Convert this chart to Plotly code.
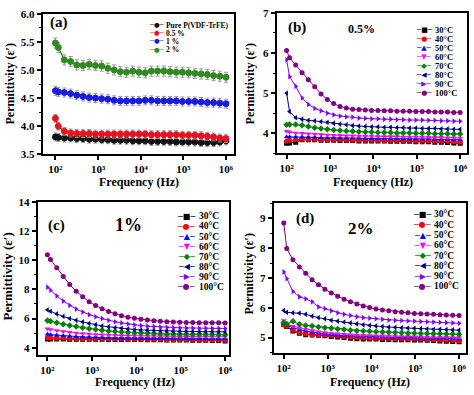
import plotly.graph_objects as go

FREQ = [100, 117, 162, 227, 317, 444, 621, 869, 1216, 1701, 2380, 3330, 4659, 6518, 9119,
        12758, 17849, 24971, 34935, 48875, 68378, 95663, 133835, 187238, 261951, 366476,
        512710, 717294, 1003513]

# ---- panel (a): composition series at room temperature
A_NAMES = ["Pure P(VDF-TrFE)", "0.5 %", "1 %", "2 %"]
A_PURE = [3.81, 3.80, 3.79, 3.79, 3.78, 3.78, 3.77, 3.77, 3.76, 3.76,
          3.75, 3.75, 3.75, 3.74, 3.74, 3.74, 3.73, 3.73, 3.73, 3.73,
          3.72, 3.72, 3.72, 3.72, 3.71, 3.71, 3.71, 3.72, 3.74]
A_05 = [4.14, 4.00, 3.91, 3.88, 3.87, 3.87, 3.87, 3.86, 3.86, 3.86,
        3.86, 3.86, 3.86, 3.86, 3.86, 3.86, 3.85, 3.85, 3.85, 3.85,
        3.85, 3.84, 3.84, 3.84, 3.83, 3.82, 3.81, 3.79, 3.78]
A_1 = [4.63, 4.61, 4.60, 4.58, 4.55, 4.53, 4.51, 4.50, 4.49, 4.48,
       4.46, 4.45, 4.45, 4.45, 4.45, 4.46, 4.46, 4.45, 4.45, 4.45,
       4.45, 4.44, 4.44, 4.44, 4.43, 4.42, 4.42, 4.41, 4.40]
A_2 = [5.48, 5.40, 5.18, 5.15, 5.09, 5.08, 5.10, 5.08, 5.07, 5.03,
       5.00, 4.97, 4.96, 4.98, 4.96, 4.95, 4.98, 4.98, 4.98, 4.97,
       4.96, 4.96, 4.95, 4.94, 4.93, 4.92, 4.90, 4.89, 4.87]
A_ERR = [0.07, 0.07, 0.08, 0.09]

# ---- temperature series names
T_NAMES = ["30°C", "40°C", "50°C", "60°C", "70°C", "80°C", "90°C", "100°C"]

# ---- panel (b): 0.5 %
B30 = [3.75, 3.76, 3.78, 3.84, 3.84, 3.84, 3.83, 3.83, 3.83, 3.82,
       3.82, 3.82, 3.81, 3.81, 3.81, 3.81, 3.81, 3.80, 3.80, 3.80,
       3.80, 3.79, 3.79, 3.79, 3.78, 3.78, 3.77, 3.76, 3.75]
B40 = [3.80, 3.82, 3.84, 3.85, 3.85, 3.85, 3.84, 3.84, 3.84, 3.84,
       3.83, 3.83, 3.83, 3.83, 3.83, 3.83, 3.82, 3.82, 3.82, 3.82,
       3.82, 3.81, 3.81, 3.81, 3.81, 3.80, 3.80, 3.79, 3.78]
B50 = [3.91, 3.91, 3.91, 3.91, 3.90, 3.90, 3.89, 3.89, 3.89, 3.88,
       3.88, 3.88, 3.88, 3.87, 3.87, 3.87, 3.87, 3.87, 3.87, 3.86,
       3.86, 3.86, 3.86, 3.86, 3.85, 3.85, 3.85, 3.84, 3.84]
B60 = [4.05, 4.03, 4.01, 4.00, 3.99, 3.98, 3.97, 3.96, 3.95, 3.95,
       3.94, 3.94, 3.93, 3.93, 3.93, 3.92, 3.92, 3.92, 3.92, 3.91,
       3.91, 3.91, 3.91, 3.90, 3.90, 3.90, 3.89, 3.89, 3.88]
B70 = [4.21, 4.22, 4.22, 4.20, 4.17, 4.14, 4.12, 4.10, 4.08, 4.07,
       4.06, 4.05, 4.04, 4.03, 4.03, 4.02, 4.02, 4.02, 4.01, 4.01,
       4.01, 4.00, 4.00, 4.00, 3.99, 3.99, 3.99, 3.98, 3.98]
B80 = [5.00, 4.54, 4.39, 4.35, 4.32, 4.31, 4.29, 4.27, 4.25, 4.23,
       4.21, 4.19, 4.18, 4.17, 4.16, 4.16, 4.15, 4.15, 4.14, 4.14,
       4.13, 4.13, 4.12, 4.12, 4.12, 4.11, 4.11, 4.10, 4.10]
B90 = [5.83, 5.41, 5.17, 4.88, 4.72, 4.62, 4.56, 4.50, 4.46, 4.43,
       4.41, 4.40, 4.38, 4.37, 4.36, 4.36, 4.35, 4.35, 4.34, 4.34,
       4.33, 4.33, 4.33, 4.32, 4.32, 4.31, 4.31, 4.30, 4.30]
B100 = [6.06, 5.88, 5.70, 5.51, 5.33, 5.16, 4.98, 4.84, 4.74, 4.67,
        4.63, 4.60, 4.59, 4.58, 4.57, 4.57, 4.56, 4.56, 4.55, 4.55,
        4.55, 4.54, 4.54, 4.54, 4.53, 4.53, 4.53, 4.52, 4.52]

# ---- panel (c): 1 %
C30 = [4.60, 4.60, 4.60, 4.60, 4.59, 4.59, 4.59, 4.58, 4.58, 4.58,
       4.57, 4.57, 4.57, 4.56, 4.56, 4.56, 4.55, 4.55, 4.55, 4.54,
       4.54, 4.53, 4.53, 4.52, 4.52, 4.51, 4.50, 4.49, 4.47]
C40 = [4.68, 4.67, 4.66, 4.65, 4.64, 4.63, 4.62, 4.62, 4.61, 4.61,
       4.60, 4.60, 4.60, 4.59, 4.59, 4.59, 4.58, 4.58, 4.58, 4.57,
       4.57, 4.57, 4.56, 4.56, 4.55, 4.55, 4.54, 4.53, 4.52]
C50 = [4.92, 4.90, 4.86, 4.82, 4.79, 4.76, 4.74, 4.72, 4.70, 4.69,
       4.68, 4.67, 4.66, 4.66, 4.65, 4.65, 4.64, 4.64, 4.64, 4.63,
       4.63, 4.63, 4.62, 4.62, 4.62, 4.61, 4.61, 4.60, 4.60]
C60 = [5.30, 5.25, 5.18, 5.12, 5.06, 5.01, 4.97, 4.94, 4.91, 4.89,
       4.87, 4.85, 4.84, 4.83, 4.82, 4.81, 4.80, 4.80, 4.79, 4.79,
       4.78, 4.78, 4.78, 4.77, 4.77, 4.77, 4.76, 4.76, 4.75]
C70 = [5.87, 5.82, 5.72, 5.62, 5.53, 5.45, 5.38, 5.31, 5.25, 5.20,
       5.15, 5.11, 5.08, 5.05, 5.03, 5.01, 4.99, 4.98, 4.96, 4.95,
       4.94, 4.93, 4.93, 4.92, 4.92, 4.91, 4.91, 4.90, 4.90]
C80 = [6.60, 6.50, 6.32, 6.15, 6.00, 5.88, 5.77, 5.67, 5.58, 5.50,
       5.44, 5.38, 5.33, 5.29, 5.25, 5.22, 5.20, 5.18, 5.16, 5.15,
       5.14, 5.13, 5.12, 5.11, 5.11, 5.10, 5.10, 5.09, 5.09]
C90 = [8.15, 7.95, 7.55, 7.20, 6.90, 6.65, 6.45, 6.27, 6.12, 6.00,
       5.88, 5.78, 5.70, 5.63, 5.57, 5.52, 5.48, 5.45, 5.42, 5.40,
       5.38, 5.37, 5.36, 5.35, 5.34, 5.34, 5.33, 5.33, 5.32]
C100 = [10.37, 10.05, 9.49, 8.89, 8.33, 7.87, 7.49, 7.15, 6.89, 6.67,
        6.49, 6.33, 6.20, 6.09, 6.02, 5.95, 5.90, 5.86, 5.82, 5.79,
        5.77, 5.75, 5.74, 5.73, 5.72, 5.72, 5.71, 5.71, 5.70]

# ---- panel (d): 2 %
D30 = [5.45, 5.37, 5.22, 5.15, 5.10, 5.09, 5.08, 5.06, 5.04, 5.02,
       5.00, 4.98, 4.96, 4.95, 4.95, 4.95, 4.94, 4.94, 4.93, 4.93,
       4.93, 4.92, 4.92, 4.91, 4.90, 4.89, 4.88, 4.87, 4.86]
D40 = [5.42, 5.38, 5.25, 5.17, 5.12, 5.10, 5.09, 5.08, 5.07, 5.05,
       5.03, 5.01, 5.00, 4.99, 4.98, 4.98, 4.97, 4.97, 4.97, 4.96,
       4.96, 4.95, 4.95, 4.94, 4.93, 4.92, 4.91, 4.90, 4.89]
D50 = [5.50, 5.42, 5.33, 5.27, 5.22, 5.18, 5.15, 5.12, 5.10, 5.08,
       5.07, 5.06, 5.05, 5.04, 5.03, 5.02, 5.02, 5.01, 5.01, 5.00,
       5.00, 4.99, 4.99, 4.98, 4.98, 4.97, 4.97, 4.96, 4.95]
D60 = [5.57, 5.45, 5.38, 5.33, 5.28, 5.24, 5.20, 5.17, 5.15, 5.13,
       5.11, 5.10, 5.09, 5.08, 5.07, 5.06, 5.06, 5.05, 5.05, 5.04,
       5.04, 5.03, 5.03, 5.02, 5.02, 5.01, 5.01, 5.00, 5.00]
D70 = [5.50, 5.46, 5.55, 5.45, 5.41, 5.39, 5.36, 5.33, 5.31, 5.29,
       5.27, 5.25, 5.23, 5.22, 5.21, 5.20, 5.19, 5.18, 5.17, 5.16,
       5.15, 5.15, 5.14, 5.14, 5.13, 5.13, 5.12, 5.12, 5.11]
D80 = [5.91, 5.85, 5.83, 5.82, 5.78, 5.72, 5.67, 5.63, 5.58, 5.55,
       5.52, 5.49, 5.46, 5.43, 5.41, 5.39, 5.37, 5.35, 5.34, 5.33,
       5.32, 5.31, 5.30, 5.29, 5.28, 5.28, 5.27, 5.26, 5.25]
D90 = [7.20, 6.98, 6.55, 6.37, 6.30, 6.20, 6.03, 5.97, 5.90, 5.83,
       5.78, 5.74, 5.70, 5.67, 5.65, 5.63, 5.61, 5.59, 5.58, 5.57,
       5.56, 5.55, 5.54, 5.53, 5.52, 5.51, 5.50, 5.49, 5.48]
D100 = [8.84, 7.99, 7.61, 7.37, 7.16, 6.94, 6.77, 6.62, 6.50, 6.39,
        6.29, 6.20, 6.13, 6.06, 6.01, 5.96, 5.93, 5.90, 5.87, 5.85,
        5.83, 5.81, 5.80, 5.79, 5.78, 5.77, 5.76, 5.75, 5.74]

XTICKS = [1e2, 1e3, 1e4, 1e5, 1e6]
XTICKTEXT = ["10²", "10³", "10⁴", "10⁵", "10⁶"]

# ---------------- styles
SERIF = "Liberation Serif"
A_COLORS = ["#111111", "#e8101e", "#1a1ae0", "#2f8a1f"]
T_COLORS = ["#000000", "#ff0000", "#0000ff", "#ff00ff", "#008000", "#000080", "#8000ff", "#800080"]
T_SYMBOLS = ["square", "circle", "triangle-up", "triangle-down", "diamond",
             "triangle-left", "triangle-right", "circle"]
T_GLYPHS = ["■", "●", "▲", "▼", "◆", "◀", "▶", "●"]

W, H = 474, 395
# panel pixel boxes: (left, right, top, bottom)
BOX = {
    1: (43, 236, 8, 153),
    2: (279, 471, 7, 152),
    3: (38, 231, 202, 360),
    4: (276, 470, 203, 358),
}
XR = {1: [1.70, 6.19], 2: [1.77, 6.16], 3: [1.78, 6.09], 4: [1.77, 6.16]}
YR = {1: [3.5, 6.0], 2: [3.5, 7.0], 3: [3.5, 14.0], 4: [4.48, 9.52]}
YTV = {1: [3.5, 4.0, 4.5, 5.0, 5.5, 6.0], 2: [4, 5, 6, 7], 3: [4, 6, 8, 10, 12, 14], 4: [5, 6, 7, 8, 9]}
YTT = {1: ["3.5", "4.0", "4.5", "5.0", "5.5", "6.0"], 2: ["4", "5", "6", "7"],
       3: ["4", "6", "8", "10", "12", "14"], 4: ["5", "6", "7", "8", "9"]}
YMINOR = {1: 0.25, 2: 0.5, 3: 1, 4: 0.5}

fig = go.Figure()


def ax(i, kind):
    return kind if i == 1 else f"{kind}{i}"


# panel (a)
for name, vals, col, err in zip(A_NAMES, [A_PURE, A_05, A_1, A_2], A_COLORS, A_ERR):
    fig.add_trace(go.Scatter(
        x=FREQ, y=vals, mode="lines+markers", name=name, showlegend=False,
        line=dict(color=col, width=1.3),
        marker=dict(symbol="circle", size=6, color=col, line=dict(color=col, width=1)),
        error_y=dict(type="constant", value=err, color="#9a9a9a", thickness=1, width=2),
        xaxis="x", yaxis="y"))

PANEL_SERIES = {
    2: [B30, B40, B50, B60, B70, B80, B90, B100],
    3: [C30, C40, C50, C60, C70, C80, C90, C100],
    4: [D30, D40, D50, D60, D70, D80, D90, D100],
}
for p, series in PANEL_SERIES.items():
    for name, vals, col, sym in zip(T_NAMES, series, T_COLORS, T_SYMBOLS):
        fig.add_trace(go.Scatter(
            x=FREQ, y=vals, mode="lines+markers", name=name, showlegend=False,
            line=dict(color=col, width=1),
            marker=dict(symbol=sym, size=5, color=col),
            xaxis=ax(p, "x"), yaxis=ax(p, "y")))

layout = dict(width=W, height=H, margin=dict(l=0, r=0, t=0, b=0),
              paper_bgcolor="white", plot_bgcolor="white", showlegend=False,
              font=dict(family=SERIF, color="black", size=12))

axis_common = dict(showline=True, linewidth=1.8, linecolor="black", mirror=True,
                   ticks="outside", ticklen=4, tickwidth=1.5, tickcolor="black",
                   showgrid=False, zeroline=False,
                   tickfont=dict(family=SERIF, size=11, color="black", weight="bold"))

for p, (l, r, t, b) in BOX.items():
    xd = [l / W, r / W]
    yd = [1 - b / H, 1 - t / H]
    layout[ax(p, "xaxis")] = dict(axis_common, type="log", range=XR[p], domain=xd,
                                  tickvals=XTICKS, ticktext=XTICKTEXT,
                                  anchor=ax(p, "y"))
    layout[ax(p, "yaxis")] = dict(axis_common, range=YR[p], domain=yd,
                                  tickvals=YTV[p], ticktext=YTT[p],
                                  minor=dict(ticks="outside", ticklen=2, tickwidth=1,
                                             dtick=YMINOR[p], tick0=0, tickcolor="black"),
                                  anchor=ax(p, "x"))

ann = []


def txt(x, y, s, size, xanchor="center", yanchor="middle", angle=0, family=SERIF, color="black", bold=True):
    ann.append(dict(x=x / W, y=1 - y / H, xref="paper", yref="paper", text=s,
                    showarrow=False, xanchor=xanchor, yanchor=yanchor, textangle=angle,
                    font=dict(family=family, size=size, color=color, weight="bold" if bold else "normal")))


YTITLE = "Permittivity (ε′)"
# axis titles
txt(140, 182, "Frequency (Hz)", 12)
txt(376, 182, "Frequency (Hz)", 12)
txt(136, 388, "Frequency (Hz)", 12)
txt(373, 388, "Frequency (Hz)", 12)
txt(10, 80, YTITLE, 12, angle=-90)
txt(252, 80, YTITLE, 12, angle=-90)
txt(8, 279, YTITLE, 13, angle=-90)
txt(251, 276, YTITLE, 12, angle=-90)

# panel labels
txt(59, 17, "(a)", 15)
txt(300, 22, "(b)", 15)
txt(365, 24, "0.5%", 12)
txt(57, 226, "(c)", 15)
txt(130, 226, "1%", 18)
txt(308, 219, "(d)", 15)
txt(364, 229, "2%", 17)

# legends (drawn as text keys)
for i, (name, col) in enumerate(zip(A_NAMES, A_COLORS)):
    y = 20 + i * 8.3
    txt(158, y, "─●─", 6.5, family="DejaVu Sans", color=col, bold=False)
    txt(165, y, name, 7.5, xanchor="left")

LEG = {2: (428, 437, 25, 9.25, 8.5), 3: (188, 199, 217, 10.4, 9.5), 4: (426, 436, 215, 10.6, 9.5)}
for p, (gx, tx, y0, dy, fs) in LEG.items():
    for i, (name, col, g) in enumerate(zip(T_NAMES, T_COLORS, T_GLYPHS)):
        y = y0 + i * dy
        txt(gx, y, f"─{g}─", fs - 1.5, family="DejaVu Sans", color=col, bold=False)
        txt(tx, y, name, fs, xanchor="left")

layout["annotations"] = ann
fig.update_layout(**layout)
fig.write_html("out.html", config={"displayModeBar": False},
               post_script="document.body.style.margin='0';document.body.style.padding='0';")
